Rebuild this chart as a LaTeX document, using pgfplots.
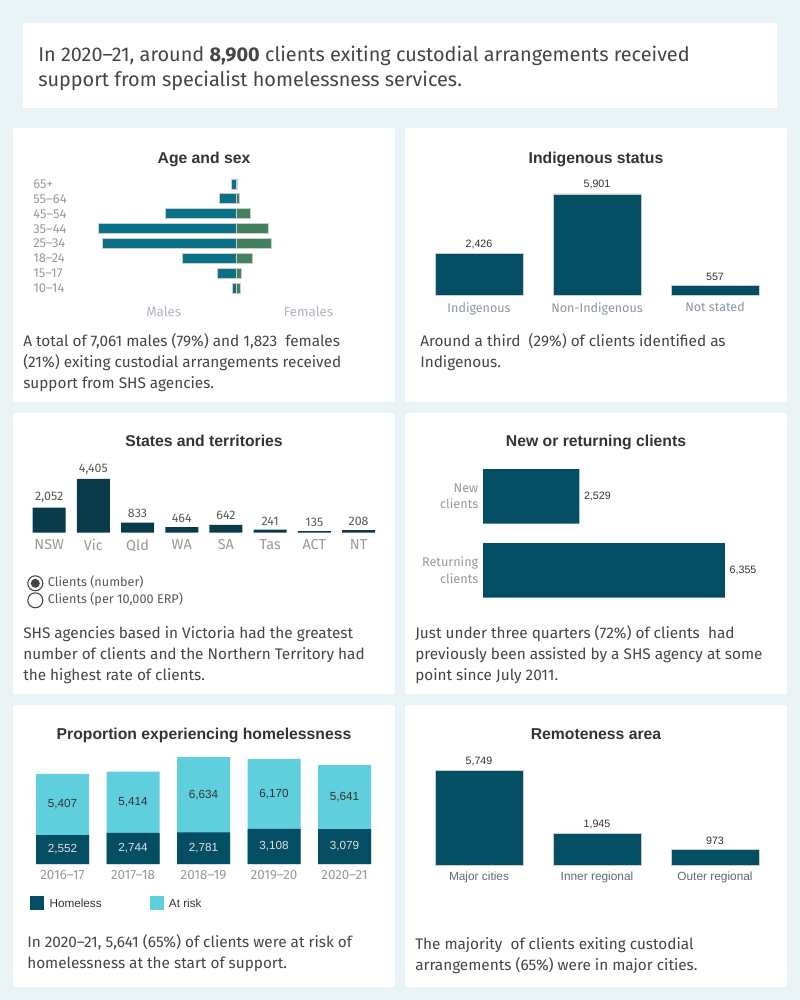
\documentclass[border=0pt]{standalone}
\usepackage{fontspec}
\usepackage{pgfplots}
\usepackage{pgfplotstable}
\pgfplotsset{compat=1.18}
\setmainfont{Fira Sans}
\newfontfamily\arialfont{Liberation Sans}

\definecolor{pagebg}{HTML}{EAF3F6}
\definecolor{txt}{HTML}{333333}
\definecolor{body}{HTML}{454545}
\definecolor{lab}{HTML}{8C96A0}
\definecolor{labgrey}{HTML}{999999}
\definecolor{sexlab}{HTML}{AEB6BF}
\definecolor{male}{HTML}{0A7187}
\definecolor{female}{HTML}{42805F}
\definecolor{teal}{HTML}{044E64}
\definecolor{navy}{HTML}{083A4A}
\definecolor{atrisk}{HTML}{5FCFDD}
\definecolor{edge}{HTML}{CCCCCC}
\definecolor{radio}{HTML}{444444}
\definecolor{remlab}{HTML}{5F6B78}

\newcommand{\fs}[2]{\fontsize{#1}{#2}\selectfont}

\pgfplotsset{
  panel/.style={
    scale only axis,
    axis line style={draw=none},
    major tick length=0pt,
    tick style={draw=none},
    clip=false,
    /pgf/number format/.cd, fixed, precision=0, 1000 sep={,}, assume math mode=true, /pgfplots/.cd,
  },
}

% age group, males, females
\pgfplotstableread{
idx male female
0 70 20
1 270 50
2 1135 240
3 2217 520
4 2153 565
5 861 270
6 296 95
7 60 63
}\agedata

% year, homeless, at risk
\pgfplotstableread{
idx homeless atrisk
0 2552 5407
1 2744 5414
2 2781 6634
3 3108 6170
4 3079 5641
}\homedata

\tikzset{
  ttl/.style={anchor=base, inner sep=0pt, font=\arialfont\bfseries\fs{11.8}{14}, text=txt},
  para/.style={anchor=base west, inner sep=0pt, font=\fs{11.5}{13.8}, text=body},
}

\begin{document}
\begin{tikzpicture}[x=0.75pt,y=-0.75pt]
\useasboundingbox (0,0) rectangle (800,1000);
\fill[pagebg] (0,0) rectangle (800,1000);
\fill[white] (23,23) rectangle (777,108);
\foreach \ya/\yb in {128/402,413/694,705/987}{
  \fill[white] (13,\ya) rectangle (395,\yb);
  \fill[white] (405,\ya) rectangle (787,\yb);
}

% headline
\node[anchor=base west, inner sep=0pt, font=\fs{14.9}{18}, text=body] at (38,61)
  {In 2020–21, around \textbf{8,900} clients exiting custodial arrangements received};
\node[anchor=base west, inner sep=0pt, font=\fs{14.9}{18}, text=body] at (38,86.5)
  {support from specialist homelessness services.};

% panel titles
\node[ttl] at (204,163.5) {Age and sex};
\node[ttl] at (596,163.5) {Indigenous status};
\node[ttl] at (204,446.7) {States and territories};
\node[ttl] at (596,446.7) {New or returning clients};
\node[ttl] at (204,739) {Proportion experiencing homelessness};
\node[ttl] at (596,739) {Remoteness area};

% ---------- Age and sex ----------
\begin{axis}[panel,
  at={(65.55pt,-132.4pt)}, anchor=north west,
  width=222.9pt, height=89.4pt,
  xmin=-2400, xmax=2400, ymin=-0.5, ymax=7.5, y dir=reverse,
  xtick=\empty, ytick={0,...,7},
  yticklabels={65+,55–64,45–54,35–44,25–34,18–24,15–17,10–14},
  yticklabel style={anchor=west, xshift=-40.8pt, inner sep=0pt, font=\fs{9.7}{11}, text=labgrey},
]
\addplot[xbar, bar width=7.5pt, bar shift=0pt, fill=male, draw=edge, line width=0.6pt]
  table[x expr=-\thisrow{male}, y=idx] \agedata;
\addplot[xbar, bar width=7.5pt, bar shift=0pt, fill=female, draw=edge, line width=0.6pt]
  table[x=female, y=idx] \agedata;
\end{axis}
\node[anchor=base, inner sep=0pt, font=\fs{10}{12}, text=sexlab] at (163.7,316) {Males};
\node[anchor=base, inner sep=0pt, font=\fs{10}{12}, text=sexlab] at (308.5,316) {Females};

% ---------- Indigenous status ----------
\begin{axis}[panel,
  at={(315pt,-221.25pt)}, anchor=south west,
  width=265.5pt, height=89.9pt,
  xmin=-0.5, xmax=2.5, ymin=0, ymax=7000,
  ytick=\empty, xtick={0,1,2}, xticklabels={Indigenous,Non-Indigenous,Not stated},
  xticklabel style={font=\fs{9.4}{11}, text=lab, yshift=-2pt},
]
\addplot[ybar, bar width=66pt, bar shift=0pt, fill=teal, draw=edge, line width=0.6pt,
  nodes near coords, nodes near coords style={font=\arialfont\fs{8}{9.6}, text=txt}]
  coordinates {(0,2426) (1,5901) (2,557)};
\end{axis}

% ---------- States and territories ----------
\begin{axis}[panel,
  at={(20.3pt,-399.5pt)}, anchor=south west,
  width=265.2pt, height=47.55pt,
  xmin=-0.5, xmax=7.5, ymin=0, ymax=5200,
  ytick=\empty, xtick={0,...,7}, xticklabels={NSW,Vic,Qld,WA,SA,Tas,ACT,NT},
  xticklabel style={font=\fs{10.8}{12}, text=labgrey, yshift=-1.5pt},
]
\addplot[ybar, bar width=24.75pt, bar shift=0pt, fill=navy, draw=none,
  nodes near coords, nodes near coords style={font=\fs{9.3}{11}, text=black!65}]
  coordinates {(0,2052) (1,4405) (2,833) (3,464) (4,642) (5,241) (6,135) (7,208)};
\end{axis}
\draw[radio, line width=0.8pt, fill=white] (35.3,583.3) circle[radius=7.5];
\fill[radio] (35.3,583.3) circle[radius=4.5];
\draw[radio, line width=0.8pt, fill=white] (35.3,600.3) circle[radius=7.5];
\node[anchor=base west, inner sep=0pt, font=\fs{9.5}{11}, text=black!65] at (47.7,586.7) {Clients (number)};
\node[anchor=base west, inner sep=0pt, font=\fs{9.5}{11}, text=black!65] at (47.7,603.7) {Clients (per 10,000 ERP)};

% ---------- New or returning clients ----------
\begin{axis}[panel,
  at={(362.25pt,-344.5pt)}, anchor=north west,
  width=217.05pt, height=111pt,
  xmin=0, xmax=7600, ymin=-0.5, ymax=1.5, y dir=reverse,
  xtick=\empty, ytick={0,1}, yticklabels={{New\\clients},{Returning\\clients}},
  yticklabel style={align=right, font=\fs{9.5}{12.5}, text=labgrey},
]
\addplot[xbar, bar width=41pt, bar shift=0pt, fill=teal, draw=none,
  nodes near coords, nodes near coords style={font=\arialfont\fs{8}{9.6}, text=txt}]
  coordinates {(2529,0) (6355,1)};
\end{axis}

% ---------- Proportion experiencing homelessness ----------
\begin{axis}[panel,
  at={(20.44pt,-648pt)}, anchor=south west,
  width=264.4pt, height=89.3pt,
  xmin=-0.5, xmax=4.5, ymin=0, ymax=10500,
  ytick=\empty, xtick={0,...,4}, xticklabels={2016–17,2017–18,2018–19,2019–20,2020–21},
  xticklabel style={font=\fs{10}{11.5}, text=labgrey, yshift=-1.5pt},
]
\addplot[ybar, bar width=39.75pt, bar shift=0pt, fill=atrisk, draw=none]
  table[x=idx, y expr=\thisrow{homeless}+\thisrow{atrisk}] \homedata;
\addplot[ybar, bar width=39.75pt, bar shift=0pt, fill=teal, draw=none]
  table[x=idx, y=homeless] \homedata;
\addplot[only marks, mark=*, mark size=0pt, draw=none, fill=none,
  point meta=explicit, nodes near coords,
  every node near coord/.append style={anchor=center, font=\arialfont\fs{8.8}{10}, text=black!80}]
  table[x=idx, y expr=\thisrow{homeless}+\thisrow{atrisk}/2, meta=atrisk] \homedata;
\addplot[only marks, mark=*, mark size=0pt, draw=none, fill=none,
  point meta=explicit, nodes near coords,
  every node near coord/.append style={anchor=center, font=\arialfont\fs{8.8}{10}, text=black!12}]
  table[x=idx, y expr=\thisrow{homeless}/2, meta=homeless] \homedata;
\end{axis}
\fill[teal] (30,896) rectangle (44,910);
\node[anchor=base west, inner sep=0pt, font=\arialfont\fs{8.8}{10}, text=txt] at (49.3,907) {Homeless};
\fill[atrisk] (150,896) rectangle (164,910);
\node[anchor=base west, inner sep=0pt, font=\arialfont\fs{8.8}{10}, text=txt] at (168.7,907) {At risk};

% ---------- Remoteness area ----------
\begin{axis}[panel,
  at={(315pt,-649.3pt)}, anchor=south west,
  width=265.5pt, height=86.8pt,
  xmin=-0.5, xmax=2.5, ymin=0, ymax=7000,
  ytick=\empty, xtick={0,1,2}, xticklabels={Major cities,Inner regional,Outer regional},
  xticklabel style={font=\arialfont\fs{8.9}{10.5}, text=remlab, yshift=-1pt},
]
\addplot[ybar, bar width=66pt, bar shift=0pt, fill=teal, draw=edge, line width=0.6pt,
  nodes near coords, nodes near coords style={font=\arialfont\fs{8}{9.6}, text=txt}]
  coordinates {(0,5749) (1,1945) (2,973)};
\end{axis}

% ---------- commentary ----------
\node[para] at (23,346.7) {A total of 7,061 males (79\%) and 1,823\ \ females};
\node[para] at (23,367.7) {(21\%) exiting custodial arrangements received};
\node[para] at (23,388.7) {support from SHS agencies.};

\node[para] at (420,346.7) {Around a third\ \ (29\%) of clients identified as};
\node[para] at (420,367.7) {Indigenous.};

\node[para] at (23,638.3) {SHS agencies based in Victoria had the greatest};
\node[para] at (23,659.3) {number of clients and the Northern Territory had};
\node[para] at (23,680.3) {the highest rate of clients.};

\node[para] at (415,638.3) {Just under three quarters (72\%) of clients\ \ had};
\node[para] at (415,659.3) {previously been assisted by a SHS agency at some};
\node[para] at (415,680.3) {point since July 2011.};

\node[para] at (27,947.7) {In 2020–21, 5,641 (65\%) of clients were at risk of};
\node[para] at (27,968.7) {homelessness at the start of support.};

\node[para] at (415,949.3) {The majority\ \ of clients exiting custodial};
\node[para] at (415,970.3) {arrangements (65\%) were in major cities.};
\end{tikzpicture}
\end{document}
